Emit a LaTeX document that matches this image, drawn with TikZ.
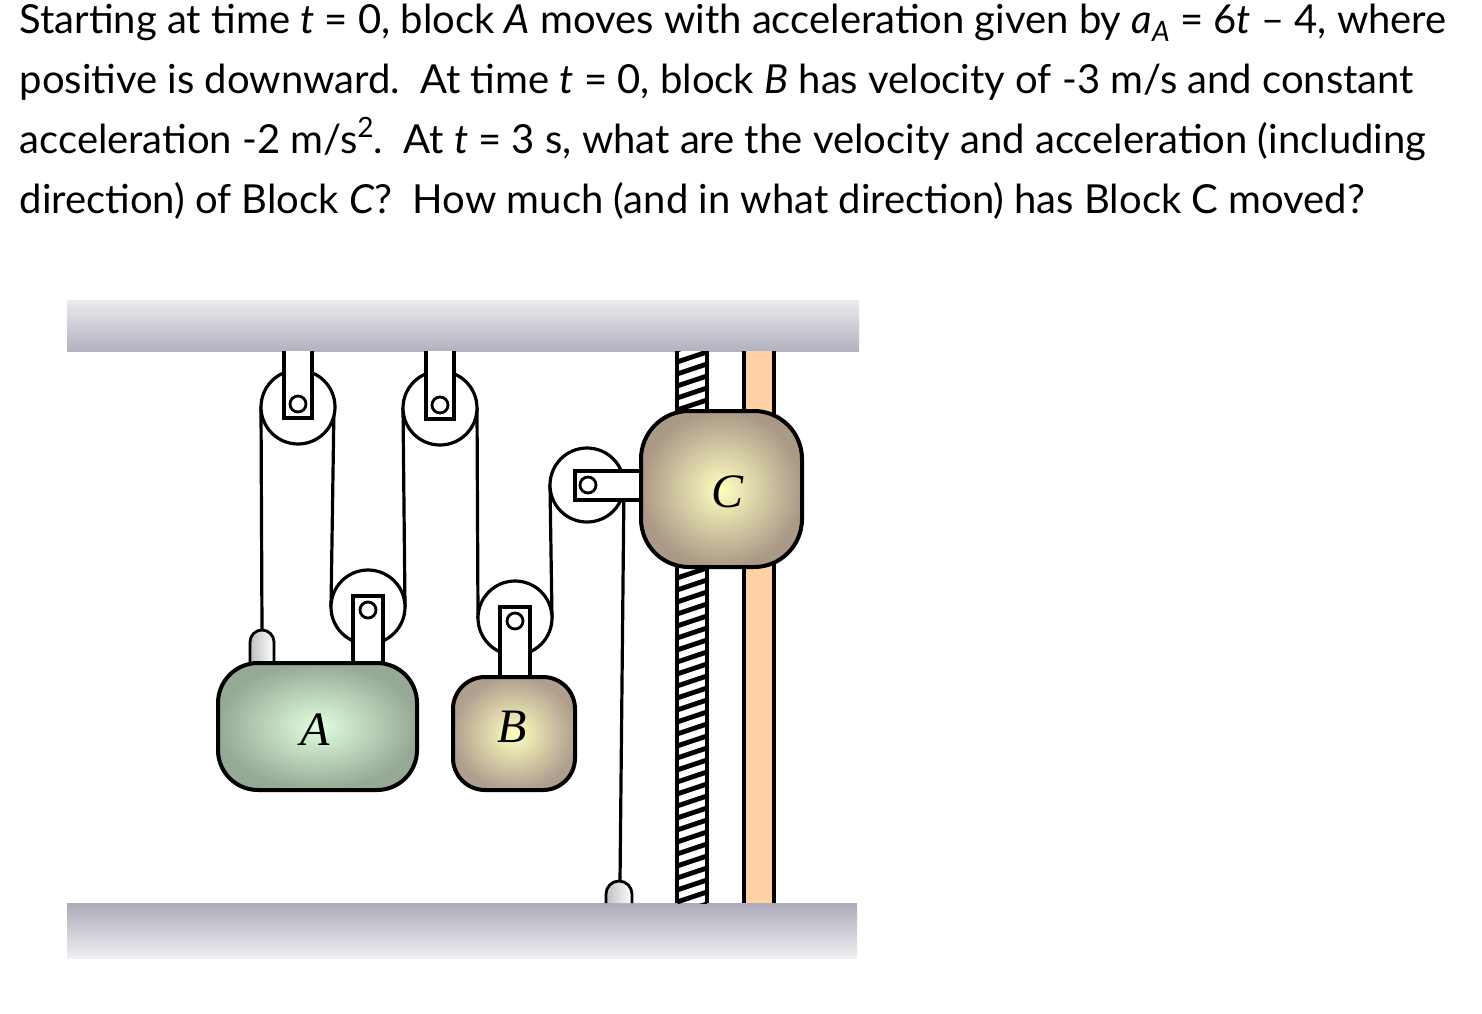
\documentclass[tikz,border=0pt]{standalone}
\usepackage{fontspec}
\setmainfont{Lato}
\newfontfamily\serifit{Liberation Serif}
\newcommand{\mysub}[1]{\raisebox{-4pt}{\fontsize{14}{14}\selectfont #1}}
\newcommand{\mysup}[1]{\raisebox{8pt}{\fontsize{14}{14}\selectfont #1}}
\begin{document}
\begin{tikzpicture}[x=0.5pt,y=-0.5pt,line width=1.6pt,
 txt/.style={anchor=base west,inner sep=0pt,font=\fontsize{20}{22}\selectfont},
 pulley/.style={circle,draw,fill=white,minimum size=37pt,inner sep=0pt,line width=1.6pt},
 hole/.style={circle,draw,fill=white,minimum size=8pt,inner sep=0pt,line width=1.4pt},
 lbl/.style={font=\serifit\itshape\fontsize{24}{24}\selectfont}]
\useasboundingbox (0,0) rectangle (1482,1013);
\node[txt] (l1) at (18,33) {Starting at time \textit{t} = 0, block \textit{A} moves with acceleration given by \textit{a}\mysub{\textit{A}} = 6\textit{t} – 4, where};
\node[txt] (l2) at (18,93) {positive is downward.\ \ At time \textit{t} = 0, block \textit{B} has velocity of -3 m/s and constant};
\node[txt] (l3) at (18,153) {acceleration -2 m/s\mysup{2}.\ \ At \textit{t} = 3 s, what are the velocity and acceleration (including};
\node[txt] (l4) at (18,213) {direction) of Block \textit{C}?\ \ How much (and in what direction) has Block C moved?};
% bars
\fill[top color=blue!5!gray!15,bottom color=blue!10!gray!55] (67,300) rectangle (859,351);
\fill[top color=blue!10!gray!60,bottom color=blue!5!gray!12] (67,903) rectangle (857,958);
% rods
\begin{scope}
\clip (677,351) rectangle (707,903);
\fill[white] (677,351) rectangle (707,903);
\foreach \y in {340,352,...,920} \draw[line width=2.4pt] (677,\y+10) -- (707,\y);
\end{scope}
\draw (677,351) -- (677,903) (707,351) -- (707,903);
\fill[orange!35!white] (744,351) rectangle (774,903);
\draw (744,351) -- (744,903) (774,351) -- (774,903);
% ropes
\coordinate (ka) at (262,630);
\coordinate (kf) at (620,882);
\draw (261,407) -- (ka);
\draw (334,407) -- (331,607);
\draw (405,607) -- (403,408);
\draw (477,408) -- (478,618);
\draw (552,618) -- (550,485);
\draw (624,485) -- (kf);
% pulleys
\node[pulley] (p1) at (298,407) {};
\node[pulley] (p2) at (440,408) {};
\node[pulley] (pa) at (368,607) {};
\node[pulley] (pb) at (515,618) {};
\node[pulley] (pc) at (587,485) {};
% brackets
\draw[fill=white] (284,351) -- (284,418) -- (312,418) -- (312,351);
\draw[fill=white] (426,351) -- (426,419) -- (454,419) -- (454,351);
\draw[fill=white] (353,663) -- (353,596) -- (383,596) -- (383,663);
\draw[fill=white] (500,677) -- (500,607) -- (530,607) -- (530,677);
\draw[fill=white] (642,471) -- (575,471) -- (575,500) -- (642,500);
\node[hole] (h1) at (298,404) {};
\node[hole] (h2) at (440,405) {};
\node[hole] (ha) at (368,610) {};
\node[hole] (hb) at (515,621) {};
\node[hole] (hc) at (588,485) {};
% knobs
\draw[left color=gray!50,right color=white,line width=1.4pt] (250,663) -- (250,642) arc (180:360:12) -- (274,663);
\draw[left color=gray!50,right color=white,line width=1.4pt] (606,903) -- (606,894) arc (180:360:13) -- (632,903);
% blocks
\draw[line width=2pt,rounded corners=20,inner color=green!12!white,outer color=green!10!gray!75] (218,663) rectangle (417,790);
\draw[line width=2pt,rounded corners=16,inner color=yellow!25!white,outer color=brown!35!gray!75] (453,677) rectangle (575,790);
\draw[line width=2pt,rounded corners=24,inner color=yellow!25!white,outer color=brown!35!gray!80] (641,411) rectangle (802,567);
\node[lbl] (la) at (315,730) {A};
\node[lbl] (lb) at (512,727) {B};
\node[lbl] (lc) at (727,492) {C};
\end{tikzpicture}
\end{document}
